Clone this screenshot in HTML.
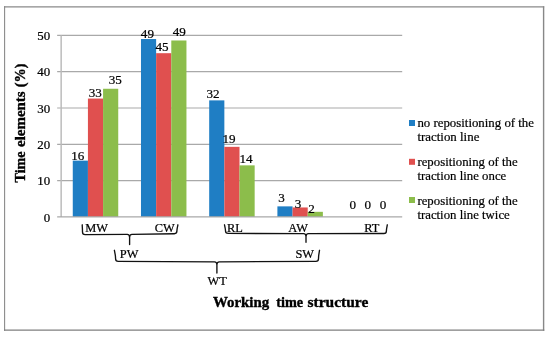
<!DOCTYPE html>
<html><head><meta charset="utf-8"><title>Working time structure</title>
<style>html,body{margin:0;padding:0;background:#fff}svg{display:block}text{font-family:"Liberation Serif","DejaVu Serif",serif;fill:#000;stroke:#000;stroke-width:.22px}text.b{font-weight:bold;stroke-width:.38px}</style></head><body>
<svg width="550" height="337" viewBox="0 0 550 337">
<rect x="0" y="0" width="550" height="337" fill="#fff"/>
<defs><filter id="soft" x="0" y="0" width="100%" height="100%" filterUnits="userSpaceOnUse" color-interpolation-filters="sRGB"><feGaussianBlur stdDeviation="0.4"/></filter></defs>
<g filter="url(#soft)">
<path d="M4.6,6.3 V330.8" stroke="#8a8a8a" stroke-width="1.1" fill="none"/>
<path d="M4,6.85 H544.2" stroke="#8a8a8a" stroke-width="1.1" fill="none"/>
<path d="M543.6,6.3 V330.7" stroke="#888888" stroke-width="1.4" fill="none"/>
<path d="M4,330.2 H544.3" stroke="#7f7f7f" stroke-width="1.2" fill="none"/>
<line x1="57.15" y1="180.60" x2="402.2" y2="180.60" stroke="#a9a9a9" stroke-width="1.2"/>
<line x1="57.15" y1="144.30" x2="402.2" y2="144.30" stroke="#a9a9a9" stroke-width="1.2"/>
<line x1="57.15" y1="108.00" x2="402.2" y2="108.00" stroke="#a9a9a9" stroke-width="1.2"/>
<line x1="57.15" y1="71.70" x2="402.2" y2="71.70" stroke="#a9a9a9" stroke-width="1.2"/>
<line x1="57.15" y1="35.40" x2="402.2" y2="35.40" stroke="#a9a9a9" stroke-width="1.2"/>
<rect x="72.77" y="160.63" width="15.16" height="56.27" fill="#1f7ec4"/>
<rect x="87.93" y="98.56" width="15.16" height="118.34" fill="#e0504f"/>
<rect x="103.08" y="88.76" width="15.16" height="128.14" fill="#8cbd4b"/>
<rect x="140.98" y="39.03" width="15.16" height="177.87" fill="#1f7ec4"/>
<rect x="156.14" y="53.19" width="15.16" height="163.71" fill="#e0504f"/>
<rect x="171.29" y="40.48" width="15.16" height="176.42" fill="#8cbd4b"/>
<rect x="209.19" y="100.38" width="15.16" height="116.52" fill="#1f7ec4"/>
<rect x="224.35" y="146.84" width="15.16" height="70.06" fill="#e0504f"/>
<rect x="239.50" y="165.35" width="15.16" height="51.55" fill="#8cbd4b"/>
<rect x="277.40" y="206.37" width="15.16" height="10.53" fill="#1f7ec4"/>
<rect x="292.56" y="207.46" width="15.16" height="9.44" fill="#e0504f"/>
<rect x="307.71" y="211.82" width="15.16" height="5.08" fill="#8cbd4b"/>
<line x1="61.15" y1="35.4" x2="61.15" y2="216.9" stroke="#bcbcbc" stroke-width="1.5"/>
<line x1="57.15" y1="216.9" x2="402.2" y2="216.9" stroke="#a9a9a9" stroke-width="1.2"/>
<text x="50.2" y="221.75" font-size="12.9" text-anchor="end">0</text>
<text x="50.2" y="185.35" font-size="12.9" text-anchor="end">10</text>
<text x="50.2" y="148.95" font-size="12.9" text-anchor="end">20</text>
<text x="50.2" y="112.55" font-size="12.9" text-anchor="end">30</text>
<text x="50.2" y="76.15" font-size="12.9" text-anchor="end">40</text>
<text x="50.2" y="39.75" font-size="12.9" text-anchor="end">50</text>
<text x="77.8" y="160" font-size="13.1" text-anchor="middle">16</text>
<text x="95.2" y="96.7" font-size="13.1" text-anchor="middle">33</text>
<text x="115.2" y="84" font-size="13.1" text-anchor="middle">35</text>
<text x="147.4" y="38.1" font-size="13.1" text-anchor="middle">49</text>
<text x="162.1" y="50.7" font-size="13.1" text-anchor="middle">45</text>
<text x="179.3" y="36.3" font-size="13.1" text-anchor="middle">49</text>
<text x="213.1" y="98.4" font-size="13.1" text-anchor="middle">32</text>
<text x="229.1" y="143.2" font-size="13.1" text-anchor="middle">19</text>
<text x="246" y="163" font-size="13.1" text-anchor="middle">14</text>
<text x="281.5" y="202" font-size="13.1" text-anchor="middle">3</text>
<text x="298.1" y="207.9" font-size="13.1" text-anchor="middle">3</text>
<text x="311.6" y="213.4" font-size="13.1" text-anchor="middle">2</text>
<text x="352.8" y="208.5" font-size="13.1" text-anchor="middle">0</text>
<text x="367.7" y="208.5" font-size="13.1" text-anchor="middle">0</text>
<text x="383.1" y="208.5" font-size="13.1" text-anchor="middle">0</text>
<text x="85.35" y="232.0" font-size="12.4">MW</text>
<text x="154.85" y="232.0" font-size="12.4">CW</text>
<text x="227.1" y="232.1" font-size="12.4">RL</text>
<text x="288.3" y="232.1" font-size="12.4">AW</text>
<text x="364.3" y="232.1" font-size="12.4">RT</text>
<text x="119.8" y="257.7" font-size="12.4">PW</text>
<text x="295.4" y="258.3" font-size="12.4">SW</text>
<text x="207.5" y="284.6" font-size="12.4">WT</text>
<path d="M82.20,224.8 Q82.50,229.70 82.50,232.00 Q82.5,234.6 85.1,234.6 L127.20,234.3 Q129.6,234.3 129.6,237.30 V244.5 M177.90,224.8 Q176.90,229.25 176.90,231.10 Q176.9,233.7 174.3,233.7 L132.00,234.3 Q129.6,234.3 129.6,237.30" fill="none" stroke="#111" stroke-width="1.35" stroke-linecap="round" stroke-linejoin="round"/>
<path d="M224.50,224.8 Q225.50,229.10 225.50,230.80 Q225.5,233.4 228.1,233.4 L303.60,233.6 Q306.0,233.6 306.0,236.60 V242.3 M387.30,224.8 Q386.40,229.15 386.40,230.90 Q386.4,233.5 383.79999999999995,233.5 L308.40,233.6 Q306.0,233.6 306.0,236.60" fill="none" stroke="#111" stroke-width="1.35" stroke-linecap="round" stroke-linejoin="round"/>
<path d="M114.40,250.3 Q115.60,255.80 115.60,258.70 Q115.6,261.3 118.19999999999999,261.3 L214.50,261.8 Q216.9,261.8 216.9,264.80 V273.0 M319.50,250.3 Q318.50,255.80 318.50,258.70 Q318.5,261.3 315.9,261.3 L219.30,261.8 Q216.9,261.8 216.9,264.80" fill="none" stroke="#111" stroke-width="1.35" stroke-linecap="round" stroke-linejoin="round"/>
<text x="213.0" y="306.9" class="b" font-size="14.9" textLength="56.1" lengthAdjust="spacingAndGlyphs">Working</text>
<text x="276.3" y="306.9" class="b" font-size="14.9" textLength="26.9" lengthAdjust="spacingAndGlyphs">time</text>
<text x="307.6" y="306.9" class="b" font-size="14.9" textLength="60.7" lengthAdjust="spacingAndGlyphs">structure</text>
<g transform="translate(24.6,0) rotate(-90)">
<text x="-182.5" y="0" class="b" font-size="15.6" textLength="31.1" lengthAdjust="spacingAndGlyphs">Time</text>
<text x="-146.9" y="0" class="b" font-size="15.6" textLength="55.5" lengthAdjust="spacingAndGlyphs">elements</text>
<text x="-87.2" y="0" class="b" font-size="15.6" textLength="23.6" lengthAdjust="spacingAndGlyphs">(%)</text>
</g>
<rect x="409" y="120" width="6" height="6" fill="#1f7ec4"/>
<text x="417.4" y="126.5" font-size="13.2" textLength="116.6" lengthAdjust="spacingAndGlyphs">no repositioning of the</text>
<text x="417.4" y="140.8" font-size="13.2" textLength="62.0" lengthAdjust="spacingAndGlyphs">traction line</text>
<rect x="409" y="158.8" width="6" height="6" fill="#e0504f"/>
<text x="417.4" y="166.2" font-size="13.2" textLength="100.3" lengthAdjust="spacingAndGlyphs">repositioning of the</text>
<text x="417.4" y="180.1" font-size="13.2" textLength="88.9" lengthAdjust="spacingAndGlyphs">traction line once</text>
<rect x="409" y="197.0" width="6" height="6" fill="#8cbd4b"/>
<text x="417.4" y="205.2" font-size="13.2" textLength="100.3" lengthAdjust="spacingAndGlyphs">repositioning of the</text>
<text x="417.4" y="219.1" font-size="13.2" textLength="92.4" lengthAdjust="spacingAndGlyphs">traction line twice</text>
</g>
</svg></body></html>
